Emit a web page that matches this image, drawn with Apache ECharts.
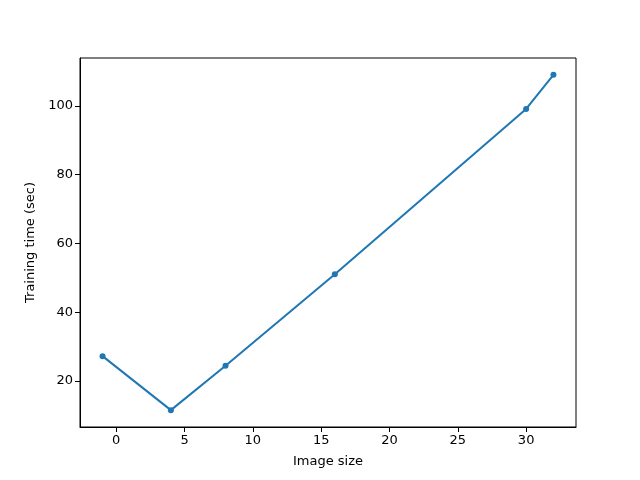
<!DOCTYPE html>
<html>
<head>
<meta charset="utf-8">
<script src="https://cdn.jsdelivr.net/npm/echarts@6/dist/echarts.min.js"></script>
<style>html,body{margin:0;padding:0;background:#fff}#c{width:640px;height:480px}</style>
</head>
<body>
<div id="c"></div>
<script>
const imageSize = [-1, 4, 8, 16, 30, 32];
const trainingTime = [27.2, 11.5, 24.4, 51.0, 99.1, 109.0];
const xTicks = [0, 5, 10, 15, 20, 25, 30];
const yTicks = [20, 40, 60, 80, 100];

const font = 'DejaVu Sans';
const chart = echarts.init(document.getElementById('c'), null, {renderer: 'canvas'});
chart.setOption({
  animation: false,
  backgroundColor: '#fff',
  grid: {left: 80, right: 64, top: 58, bottom: 53, show: true, borderColor: '#000', borderWidth: 1, backgroundColor: 'transparent'},
  xAxis: {
    type: 'value', min: -2.65, max: 33.65,
    name: 'Image size', nameLocation: 'middle', nameGap: 28,
    nameTextStyle: {fontFamily: font, fontSize: 13, color: '#000'},
    axisLine: {show: true, onZero: false, lineStyle: {color: '#000', width: 1}},
    axisTick: {show: true, length: 5, lineStyle: {color: '#000'}, customValues: xTicks},
    axisLabel: {fontFamily: font, fontSize: 13, color: '#000', margin: 7, customValues: xTicks},
    splitLine: {show: false}
  },
  yAxis: {
    type: 'value', min: 6.6, max: 113.9,
    name: 'Training time (sec)', nameLocation: 'middle', nameGap: 43,
    nameTextStyle: {fontFamily: font, fontSize: 13, color: '#000'},
    axisLine: {show: true, onZero: false, lineStyle: {color: '#000', width: 1}},
    axisTick: {show: true, length: 5, lineStyle: {color: '#000'}, customValues: yTicks},
    axisLabel: {fontFamily: font, fontSize: 13, color: '#000', margin: 7, customValues: yTicks},
    splitLine: {show: false}
  },
  series: [{
    type: 'line',
    data: imageSize.map((x, i) => [x, trainingTime[i]]),
    symbol: 'circle', symbolSize: 6, showSymbol: true,
    lineStyle: {color: '#1f77b4', width: 2},
    itemStyle: {color: '#1f77b4'}
  }]
});
</script>
</body>
</html>
